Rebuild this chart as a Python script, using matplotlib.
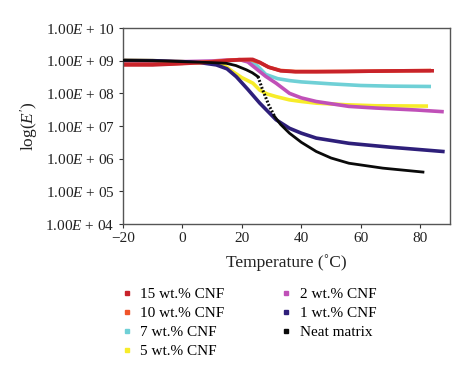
import matplotlib
matplotlib.use("Agg")
import matplotlib.pyplot as plt
from matplotlib.lines import Line2D
import numpy as np

plt.rcParams['font.family'] = ['Liberation Serif', 'DejaVu Serif']
plt.rcParams['mathtext.fontset'] = 'custom'
plt.rcParams['mathtext.rm'] = 'Liberation Serif'
plt.rcParams['mathtext.it'] = 'Liberation Serif:italic'

# Data: temperature (°C) and log10(E')
t15 = [-20, -10, 0, 10, 15, 19, 23.6, 26, 29, 33, 38, 45, 55, 65, 75, 84]
e15 = [8.87, 8.87, 8.91, 8.96, 9.00, 9.03, 9.04, 8.95, 8.80, 8.69, 8.66, 8.66, 8.67, 8.68, 8.69, 8.69]
t10 = [-20, -10, 0, 10, 15, 19, 23, 26, 29, 33, 38, 45, 55, 65, 75, 83]
e10 = [8.89, 8.89, 8.92, 8.97, 9.01, 9.03, 9.03, 8.94, 8.80, 8.70, 8.67, 8.67, 8.67, 8.68, 8.69, 8.70]
t7 = [-20, -10, 0, 10, 15, 19, 22, 25, 28, 32, 36, 40, 50, 60, 70, 83]
e7 = [8.98, 8.97, 8.96, 8.97, 9.00, 9.02, 9.00, 8.86, 8.58, 8.45, 8.39, 8.35, 8.29, 8.24, 8.22, 8.21]
t5 = [-20, -10, 0, 10, 14, 17, 20, 23.7, 26, 28.5, 31.5, 36, 40, 45, 55, 65, 82]
e5 = [9.01, 9.00, 8.97, 8.92, 8.86, 8.66, 8.48, 8.31, 8.10, 7.98, 7.90, 7.80, 7.75, 7.70, 7.65, 7.62, 7.61]
t2 = [-20, -10, 0, 10, 15, 19.3, 22, 24.6, 28, 31.5, 36, 40, 45, 56, 65, 78.6, 87.3]
e2 = [8.99, 8.98, 8.97, 8.99, 9.02, 9.03, 8.96, 8.77, 8.52, 8.31, 8.00, 7.86, 7.75, 7.60, 7.55, 7.49, 7.44]
t1 = [-20, -10, 0, 6, 11.4, 15, 18.1, 22, 26, 31.5, 36, 40, 45, 56, 70, 87.6]
e1 = [9.01, 9.00, 8.97, 8.94, 8.87, 8.75, 8.51, 8.12, 7.70, 7.19, 6.93, 6.78, 6.63, 6.47, 6.35, 6.22]
tn = [-20, -10, 0, 10, 14.7, 18, 21.5, 23.5, 25.4, 27, 29, 31, 33, 36, 40, 45, 50, 56, 67.4, 80.9]
en = [9.01, 9.00, 8.97, 8.94, 8.92, 8.85, 8.72, 8.63, 8.51, 8.10, 7.65, 7.29, 7.05, 6.78, 6.50, 6.22, 6.02, 5.86, 5.71, 5.59]

labels = ['15 wt.% CNF', '10 wt.% CNF', '7 wt.% CNF', '5 wt.% CNF',
          '2 wt.% CNF', '1 wt.% CNF', 'Neat matrix']
colors = ['#c8232a', '#f0542a', '#6fd0d6', '#f7ec2a', '#c050b8', '#2e1f7a', '#0a0a0a']
series = [(t15, e15), (t10, e10), (t7, e7), (t5, e5), (t2, e2), (t1, e1), (tn, en)]

fig = plt.figure(figsize=(4.74, 3.78), dpi=100)
ax = fig.add_axes([123/474, 1 - 224/378, (450 - 123)/474, (224 - 28)/378])

order = [3, 2, 4, 6, 5, 1, 0]
for i in order:
    x = np.array(series[i][0], dtype=float)
    y = 10 ** np.array(series[i][1])
    if i == 6:
        m1 = x <= 25.4
        m2 = (x >= 25.4) & (x <= 31)
        m3 = x >= 31
        ax.plot(x[m1], y[m1], color=colors[i], lw=2.0, zorder=3)
        ax.plot(x[m2], y[m2], color=colors[i], lw=2.2, ls=(0, (0.6, 0.6)), zorder=3)
        ax.plot(x[m3], y[m3], color=colors[i], lw=2.0, zorder=3)
    else:
        ax.plot(x, y, color=colors[i], lw=2.6, zorder=2)

ax.set_yscale('log')
ax.set_xlim(-20, 90)
ax.set_ylim(1e4, 1e10)
ax.set_xticks([-20, 0, 20, 40, 60, 80])
ax.set_xticklabels(['\u221220', '0', '20', '40', '60', '80'])
yt = [4, 5, 6, 7, 8, 9, 10]
ax.set_yticks([10.0 ** k for k in yt])
ax.set_yticklabels(['1.00$E$ + %02d' % k for k in yt])
ax.yaxis.set_minor_locator(matplotlib.ticker.NullLocator())
ax.tick_params(direction='out', length=3, width=0.8, labelsize=11, colors='#333333',
               labelcolor='#222222', pad=3)
for s in ax.spines.values():
    s.set_color('#555555')
    s.set_linewidth(1.0)

ax.set_xlabel('Temperature (\u02daC)', fontsize=12.5, color='#222222', labelpad=6)
ax.set_ylabel("log($E'$)", fontsize=12.5, color='#222222')
ax.yaxis.set_label_coords((40 - 123) / 327, 0.5)

handles = [Line2D([], [], marker='s', ls='none', color=c, markersize=2.5) for c in colors]
fig.legend(handles, labels, loc='upper left', bbox_to_anchor=(113/474, 1 - 280/378),
           ncol=2, frameon=False, fontsize=11, handlelength=0.8, handletextpad=0.5,
           labelspacing=0.35, columnspacing=3.6, borderpad=0)

fig.savefig('out.png', dpi=100)
